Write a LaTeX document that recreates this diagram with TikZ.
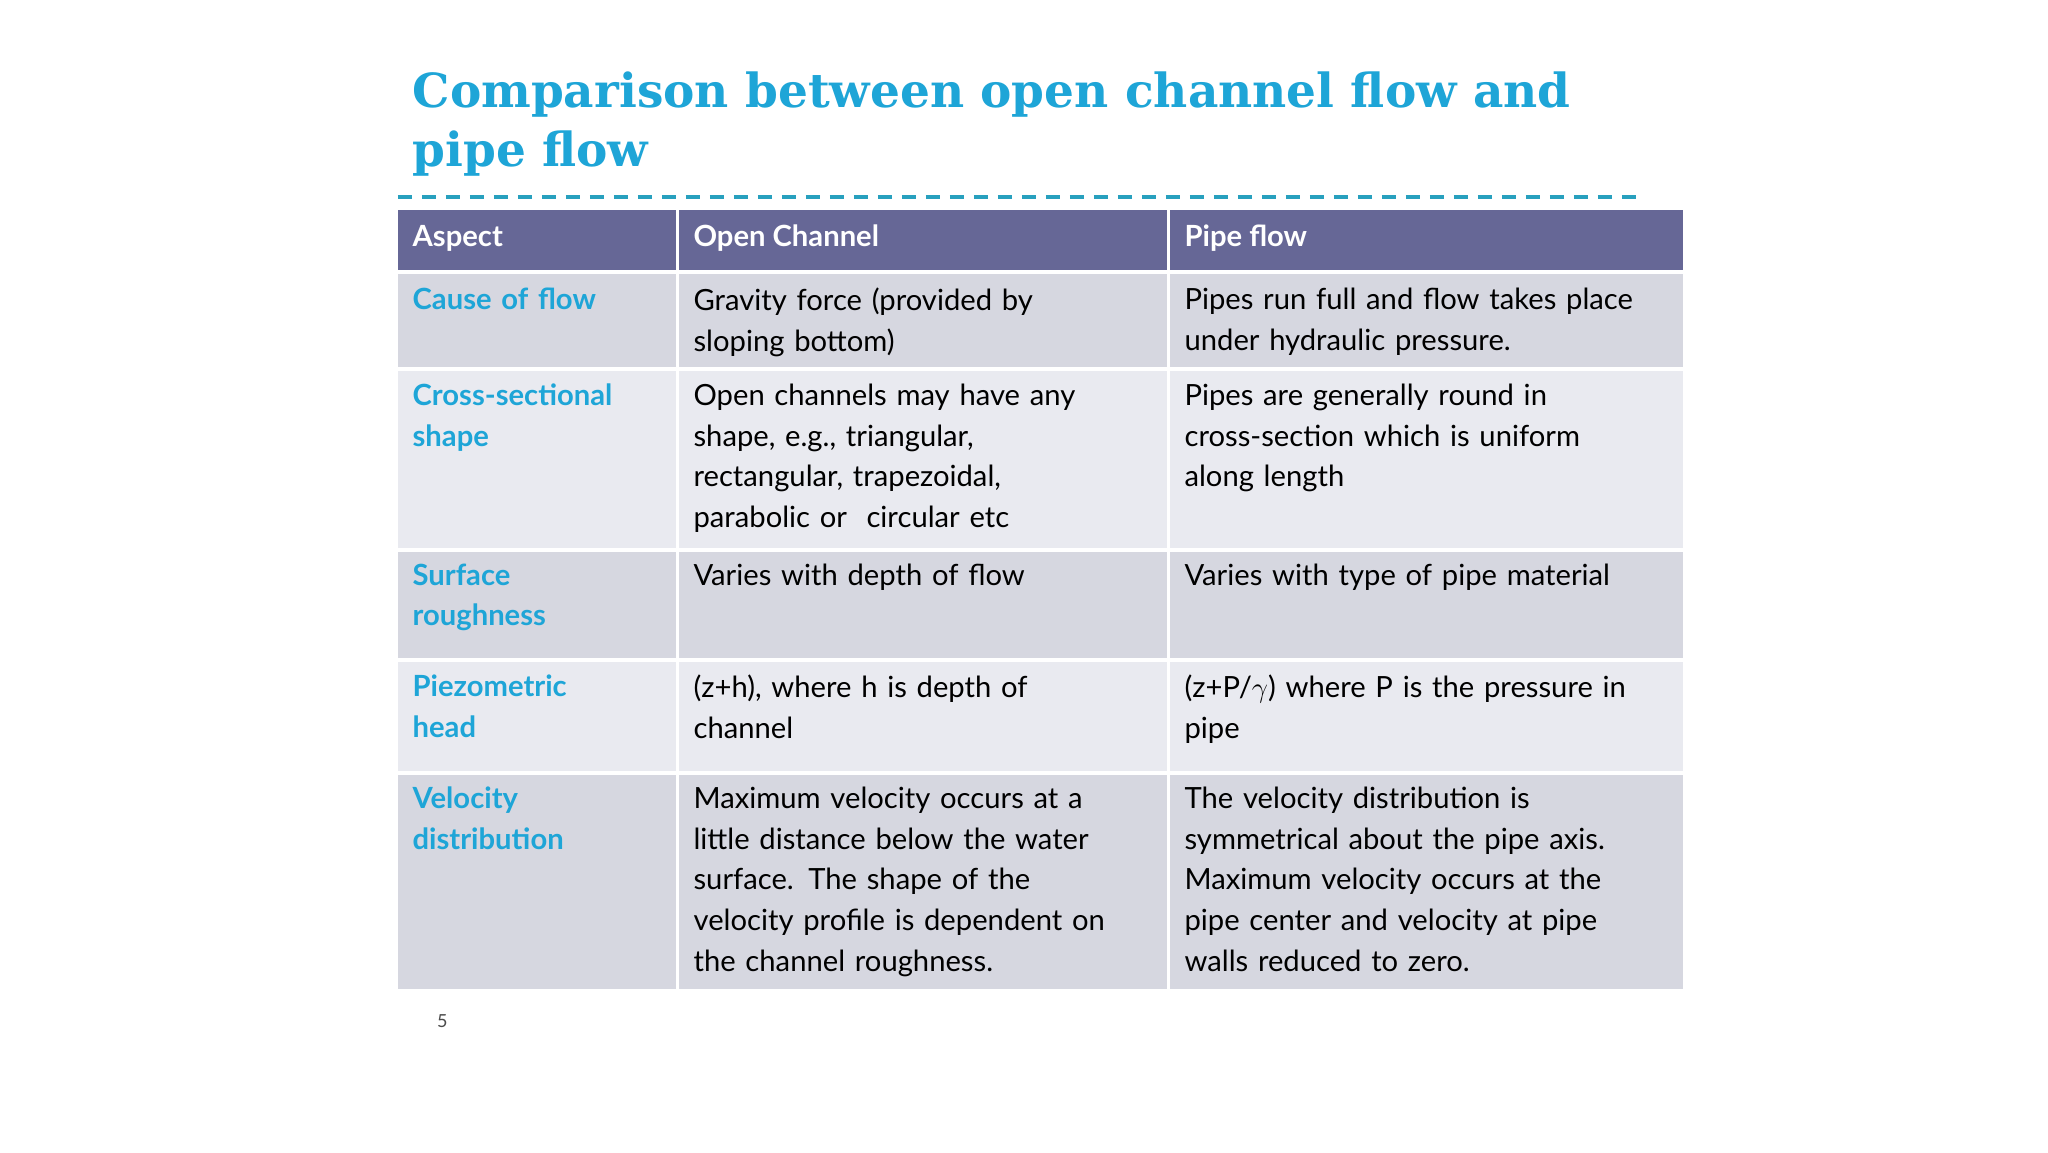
\documentclass[tikz,border=0pt]{standalone}
\usepackage{fontspec}
\setmainfont{Lato}
\newfontfamily\titlefont{DejaVu Serif}
\definecolor{ttl}{RGB}{30,165,215}
\definecolor{hdr}{RGB}{102,103,150}
\definecolor{rowa}{RGB}{214,215,224}
\definecolor{rowb}{RGB}{233,234,240}
\definecolor{dashcol}{RGB}{40,160,190}
\begin{document}
\begin{tikzpicture}[x=0.6564pt,y=-0.6564pt,
  cell/.style={anchor=north west,inner sep=0pt,align=left,font=\fontsize{14.6}{20.4}\selectfont,text width=#1},
  asp/.style={cell=190*0.6564pt,text=ttl,font=\fontsize{14.6}{20.4}\selectfont\bfseries},
  hd/.style={anchor=north west,inner sep=0pt,text=white,font=\fontsize{14.6}{20.4}\selectfont\bfseries}]
\useasboundingbox (0,0) rectangle (1560,877.7);
\fill[white] (0,0) rectangle (1560,877.7);
\node[anchor=base west,inner sep=0pt,text=ttl,font=\titlefont\fontsize{23.5}{29}\selectfont\bfseries] (t1) at (314,82) {Comparison between open channel flow and};
\node[anchor=base west,inner sep=0pt,text=ttl,font=\titlefont\fontsize{23.5}{29}\selectfont\bfseries] (t2) at (314,127) {pipe flow};
\draw[dashcol,line width=2.2pt,dash pattern=on 7pt off 5pt] (303,150) -- (1252,150);
% rows
\foreach \a/\b/\c in {160/207/hdr,207/281/rowa,281/419/rowb,419/503/rowa,503/589/rowb,589/753/rowa}{
  \fill[\c] (303,\a) rectangle (515,\b);
  \fill[\c] (517,\a) rectangle (889,\b);
  \fill[\c] (891,\a) rectangle (1282,\b);
}
\foreach \y in {207,281,419,503,589}{\draw[white,line width=2pt] (303,\y) -- (1282,\y);}
\node[hd] (h1) at (314,171) {Aspect};
\node[hd] (h2) at (528,171) {Open Channel};
\node[hd] (h3) at (902,171) {Pipe flow};
\def\rowtxt#1#2#3#4#5{%
 \node[asp] (a#1) at (314,#2) {#3};
 \node[cell=350*0.6564pt] (b#1) at (528,#2) {#4};
 \node[cell=378*0.6564pt] (c#1) at (902,#2) {#5};}
\rowtxt{1}{219}{Cause of flow}{Gravity force (provided by\\sloping bottom)}{Pipes run full and flow takes place\\under hydraulic pressure.}
\rowtxt{2}{292}{Cross-sectional\\shape}{Open channels may have any\\shape,\ e.g., triangular,\\rectangular, trapezoidal,\\parabolic or\ \ circular etc}{Pipes are generally round in\\cross-section which is uniform\\along length}
\rowtxt{3}{429}{Surface\\roughness}{Varies with depth of flow}{Varies with type of pipe material}
\rowtxt{4}{514}{Piezometric\\head}{(z+h), where h is depth of\\channel}{(z+P/$\gamma$) where P is the pressure in\\pipe}
\rowtxt{5}{599}{Velocity\\distribution}{Maximum velocity occurs at a\\little distance below the water\\surface. The shape of the\\velocity profile is dependent on\\the channel roughness.}{The velocity distribution is\\symmetrical about the pipe axis.\\Maximum velocity occurs at the\\pipe center and velocity at pipe\\walls reduced to zero.}
\node[anchor=base,inner sep=0pt,font=\fontsize{9}{10}\selectfont,text=black!70] (pg) at (337,783) {5};
\end{tikzpicture}
\end{document}
